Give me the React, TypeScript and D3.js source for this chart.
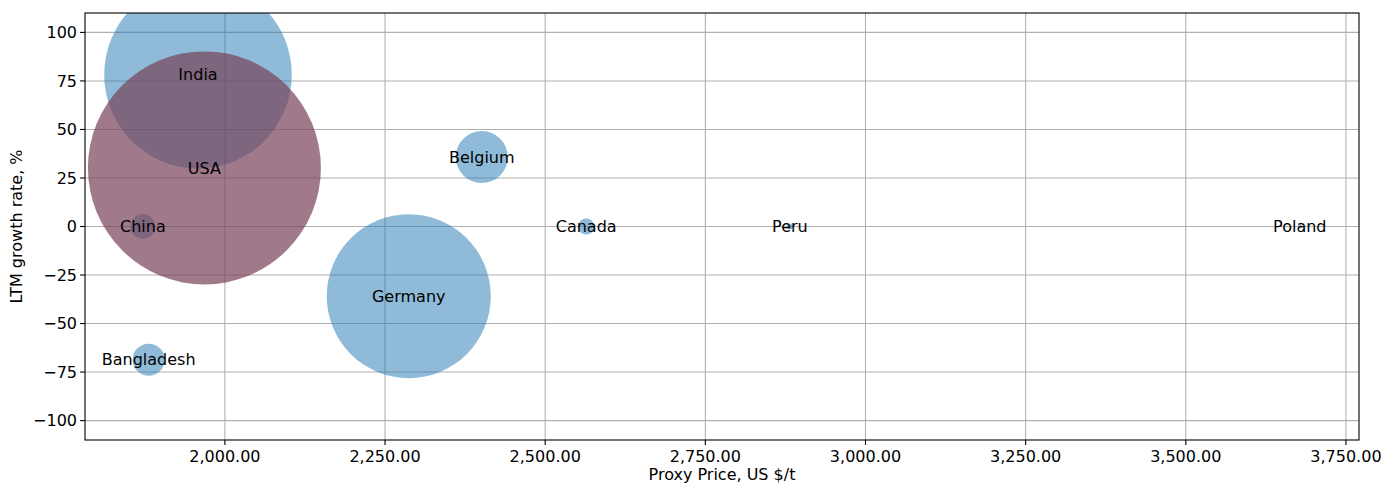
import React from "react";
import * as d3 from "d3";

const countries = ["India", "China", "Bangladesh", "Belgium", "Canada", "Germany", "Peru", "Poland", "USA"];
const proxyPrice = [1958, 1872, 1881, 2401, 2564, 2287, 2882, 3678, 1968];
const growthRate = [78.2, 0, -68.6, 35.8, 0, -35.9, 0, 0, 30.2];
const volume = [8800, 156, 256, 676, 64, 6724, 9, 4, 13572];
const bubbleColor = ["blue", "blue", "blue", "blue", "blue", "blue", "blue", "blue", "usa"];
const xTicks = [2000, 2250, 2500, 2750, 3000, 3250, 3500, 3750];
const yTicks = [-100, -75, -50, -25, 0, 25, 50, 75, 100];

const W = 1386;
const H = 484;
const M = { left: 85, right: 1359, top: 13, bottom: 440 };
const FONT = "'DejaVu Sans', sans-serif";
const FS = 16;

export default function App() {
  const x = d3.scaleLinear().domain([1781.6, 3770.4]).range([M.left, M.right]);
  const y = d3.scaleLinear().domain([-110, 110]).range([M.bottom, M.top]);
  const r = d3.scaleSqrt().domain([0, 13572]).range([0, 116.5]);
  const fmtX = d3.format(",.2f");
  const fmtY = (v: number) => (v < 0 ? "\u2212" + Math.abs(v) : String(v));

  const rows = countries.map((c, i) => ({
    name: c,
    x: proxyPrice[i],
    y: growthRate[i],
    v: volume[i],
    col: bubbleColor[i],
  }));
  const blues = rows.filter((d) => d.col === "blue");
  const others = rows.filter((d) => d.col !== "blue");

  return (
    <svg width={W} height={H} style={{ position: "absolute", left: 0, top: 0, fontFamily: FONT }}>
      <rect x={0} y={0} width={W} height={H} fill="#fff" />
      <defs>
        <clipPath id="plotclip">
          <rect x={M.left} y={M.top} width={M.right - M.left} height={M.bottom - M.top} />
        </clipPath>
      </defs>
      {/* grid */}
      <g stroke="#b0b0b0" strokeWidth={1.1}>
        {xTicks.map((t) => (
          <line key={"gx" + t} x1={x(t)} x2={x(t)} y1={M.top} y2={M.bottom} />
        ))}
        {yTicks.map((t) => (
          <line key={"gy" + t} x1={M.left} x2={M.right} y1={y(t)} y2={y(t)} />
        ))}
      </g>
      <g clipPath="url(#plotclip)">
        {blues.map((d) => (
          <circle key={d.name} cx={x(d.x)} cy={y(d.y)} r={r(d.v)} fill="#1f77b4" fillOpacity={0.5} />
        ))}
        {others.map((d) => (
          <circle key={d.name} cx={x(d.x)} cy={y(d.y)} r={r(d.v)} fill="rgb(119,66,88)" fillOpacity={0.7} />
        ))}
        {rows.map((d) => (
          <text
            key={"l" + d.name}
            x={x(d.x)}
            y={y(d.y)}
            dy="0.36em"
            textAnchor="middle"
            fontSize={FS}
            fill="#000"
          >
            {d.name}
          </text>
        ))}
      </g>
      {/* spines */}
      <rect
        x={M.left}
        y={M.top}
        width={M.right - M.left}
        height={M.bottom - M.top}
        fill="none"
        stroke="#000"
        strokeWidth={1.1}
      />
      {/* x ticks */}
      <g>
        {xTicks.map((t) => (
          <g key={"xt" + t} transform={`translate(${x(t)},${M.bottom})`}>
            <line y1={0} y2={4.9} stroke="#000" strokeWidth={1.1} />
            <text y={22} textAnchor="middle" fontSize={FS} fill="#000">
              {fmtX(t)}
            </text>
          </g>
        ))}
      </g>
      {/* y ticks */}
      <g>
        {yTicks.map((t) => (
          <g key={"yt" + t} transform={`translate(${M.left},${y(t)})`}>
            <line x1={0} x2={-4.9} stroke="#000" strokeWidth={1.1} />
            <text x={-8} dy="0.36em" textAnchor="end" fontSize={FS} fill="#000">
              {fmtY(t)}
            </text>
          </g>
        ))}
      </g>
      <text x={(M.left + M.right) / 2} y={480} textAnchor="middle" fontSize={FS} fill="#000">
        Proxy Price, US $/t
      </text>
      <text
        transform={`translate(22,${(M.top + M.bottom) / 2}) rotate(-90)`}
        textAnchor="middle"
        fontSize={FS}
        fill="#000"
      >
        LTM growth rate, %
      </text>
    </svg>
  );
}
